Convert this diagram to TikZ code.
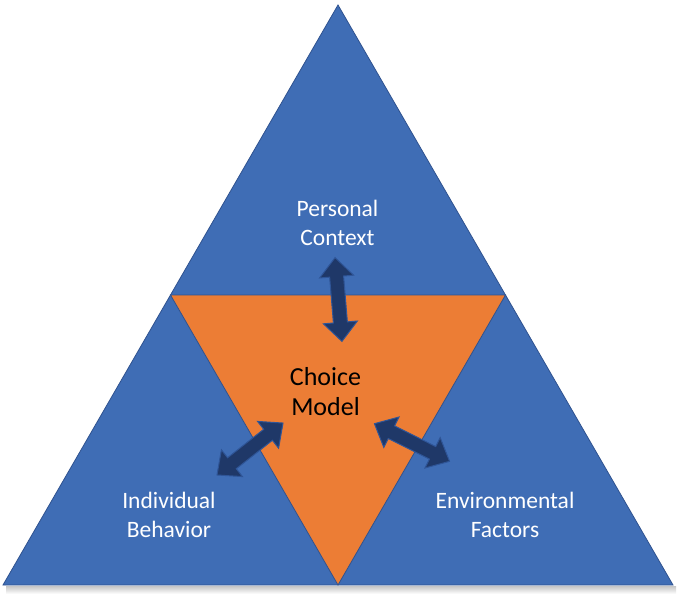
\documentclass[tikz,border=0pt]{standalone}
\usepackage{fontspec}
\setmainfont{Carlito}
\usepackage{xcolor}
\definecolor{triBlue}{HTML}{3F6DB5}
\definecolor{triEdge}{HTML}{2F528F}
\definecolor{triOrange}{HTML}{EC7D35}
\definecolor{arrowFill}{HTML}{1F3868}
\definecolor{arrowEdge}{HTML}{2F5597}
\usetikzlibrary{calc}

\tikzset{
  outer/.style={fill=triBlue, draw=triEdge, line width=0.8pt},
  inner/.style={fill=triOrange, draw=triEdge, line width=0.8pt},
  label/.style={align=center, font=\fontsize{23.5}{28.5}\selectfont, text=white},
  dblarrow/.pic={
    \filldraw[fill=arrowFill, draw=arrowEdge, line width=1pt]
      (-42,0) -- (-23,17) -- (-23,7) -- (23,7) -- (23,17) -- (42,0)
      -- (23,-17) -- (23,-7) -- (-23,-7) -- (-23,-17) -- cycle;
  }
}

\begin{document}
\begin{tikzpicture}[x=1pt, y=-1pt]
  \useasboundingbox (0,0) rectangle (685,595);
  % corners
  \coordinate (apex) at (338,5);
  \coordinate (bl) at (3,585);
  \coordinate (br) at (673,585);
  \coordinate (ml) at ($(apex)!0.5!(bl)$);
  \coordinate (mr) at ($(apex)!0.5!(br)$);
  \coordinate (mb) at ($(bl)!0.5!(br)$);
  % shadow under the base
  \shade[top color=gray!45, bottom color=white] (6,586) rectangle (676,594);
  % triangles
  \draw[outer] (apex) -- (bl) -- (br) -- cycle;
  \draw[inner] (ml) -- (mr) -- (mb) -- cycle;
  % labels
  \node[label] (personal) at (337.5,223) {Personal\\Context};
  \node[label, text=black, font=\fontsize{26}{30}\selectfont] (choice) at (325.5,392) {Choice\\Model};
  \node[label] (individual) at (169,515) {Individual\\Behavior};
  \node[label] (environ) at (505,515) {Environmental\\Factors};
  % arrows
  \pic[rotate=-85.3] at (338.5,299.5) {dblarrow};
  \pic[rotate=38.2] at (250,449) {dblarrow};
  \pic[rotate=-26.6] at (412,442.5) {dblarrow};
\end{tikzpicture}
\end{document}
